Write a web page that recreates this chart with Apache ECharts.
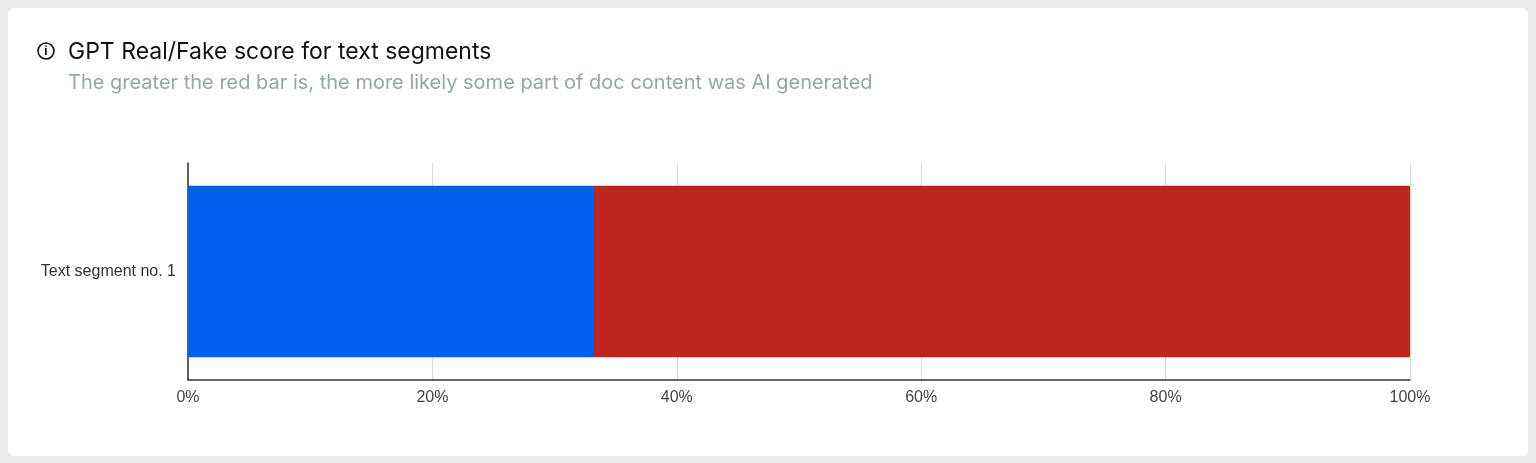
<!DOCTYPE html>
<html><head><meta charset="utf-8">
<script src="https://cdn.jsdelivr.net/npm/echarts@6/dist/echarts.min.js"></script>
<style>
html,body{margin:0;padding:0;background:#ececec;width:1536px;height:463px;overflow:hidden}
#card{position:absolute;left:8px;top:8px;width:1520px;height:448px;background:#fff;border-radius:6px}
#c{position:absolute;left:0;top:0;width:1536px;height:463px}
</style></head><body>
<div id="card"></div><div id="c"></div>
<script>
const categories = ['Text segment no. 1'];
const realValues = [33.14];
const fakeValues = [66.86];
const seriesNames = ['Real', 'Fake'];
const chart = echarts.init(document.getElementById('c'));
chart.setOption({
  backgroundColor: 'transparent',
  animation: false,
  title: {
    text: 'GPT Real/Fake score for text segments',
    subtext: 'The greater the red bar is, the more likely some part of doc content was AI generated',
    left: 63, top: 36, itemGap: 9,
    textStyle: {fontFamily: 'Inter', fontSize: 23, fontWeight: 'normal', color: '#111'},
    subtextStyle: {fontFamily: 'Inter', fontSize: 20, color: '#92a9a6'}
  },
  graphic: [
    {type: 'circle', shape: {cx: 46, cy: 51, r: 8}, style: {fill: 'none', stroke: '#111', lineWidth: 1.6}},
    {type: 'text', x: 46, y: 51, style: {text: 'i', fontFamily: 'Inter', fontSize: 12, fontWeight: 'bold', fill: '#111', align: 'center', verticalAlign: 'middle'}}
  ],
  grid: {left: 188, right: 126, top: 163, bottom: 83},
  xAxis: {
    type: 'value', min: 0, max: 100, interval: 20,
    axisLine: {show: true, lineStyle: {color: '#333', width: 1.5}},
    axisTick: {show: false},
    axisLabel: {formatter: '{value}%', fontFamily: 'Liberation Sans', fontSize: 16, color: '#444', margin: 10},
    splitLine: {lineStyle: {color: '#dcdcdc'}}
  },
  yAxis: {
    type: 'category', data: categories,
    axisLine: {show: true, lineStyle: {color: '#333', width: 1.5}},
    axisTick: {show: false},
    axisLabel: {fontFamily: 'Liberation Sans', fontSize: 16, color: '#333', margin: 12}
  },
  series: [
    {name: seriesNames[0], type: 'bar', stack: 's', data: realValues, barWidth: '79%', itemStyle: {color: '#005fec'}},
    {name: seriesNames[1], type: 'bar', stack: 's', data: fakeValues, barWidth: '79%', itemStyle: {color: '#bd261f'}}
  ]
});
</script></body></html>
